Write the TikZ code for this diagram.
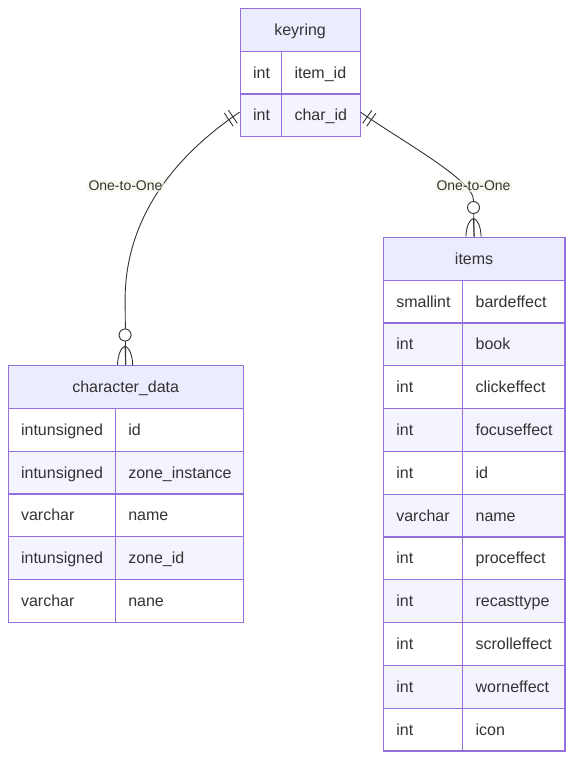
\documentclass[tikz,border=0pt]{standalone}
\usepackage{fontspec}
\setmainfont{Liberation Sans}
\usetikzlibrary{calc}
\definecolor{bord}{HTML}{9370DB}
\definecolor{hdr}{HTML}{ECECFF}
\definecolor{rowodd}{HTML}{FFFFFF}
\definecolor{roweven}{HTML}{F4F4FF}
\definecolor{txt}{HTML}{333333}
\definecolor{lblbg}{HTML}{F6F6E6}
\newcommand\errow[9]{%
  \pgfmathsetmacro\ercwa{#3-#2}%
  \pgfmathsetmacro\ercwb{#4-#3}%
  \pgfmathsetmacro\ercta{#3-#2-26}%
  \pgfmathsetmacro\erctb{#4-#3-26}%
  \pgfmathsetmacro\erch{#6-#5}%
  \node[cell, fill=#7, minimum width=\ercwa pt, minimum height=\erch pt, text width=\ercta pt] (#1t) at (#2,#5) {#8};
  \node[cell, fill=#7, minimum width=\ercwb pt, minimum height=\erch pt, text width=\erctb pt] (#1n) at (#3,#5) {#9};
}
\newcommand\erhead[5]{%
  \pgfmathsetmacro\ercwa{#3-#2}%
  \pgfmathsetmacro\erch{#5-#4}%
  \node[cell, fill=hdr, align=center, minimum width=\ercwa pt, minimum height=\erch pt] (#1) at (#2,#4) {#1};
}
\begin{document}
\begin{tikzpicture}[x=1pt,y=-1pt,
  cell/.style={draw=bord, line width=1.2pt, anchor=north west, inner xsep=13pt, inner ysep=0pt, align=left, text=txt, text height=11.5pt, text depth=0.5pt, font=\fontsize{16}{19}\selectfont},
  conn/.style={draw=txt, line width=0.9pt},
  marker/.style={draw=txt, line width=0.9pt},
  elabel/.style={fill=lblbg, fill opacity=0.6, text opacity=1, text=txt, inner sep=1.5pt, font=\fontsize{14}{16}\selectfont}]
\useasboundingbox (0,0) rectangle (572,758);
\fill[white] (0,0) rectangle (572,758);

% keyring
\erhead{keyring}{239.5}{359.5}{7.5}{50.5}
\errow{k1}{239.5}{281}{359.5}{50.5}{93.3}{rowodd}{int}{item\_id}
\errow{k2}{239.5}{281}{359.5}{93.3}{136}{roweven}{int}{char\_id}

% character_data
\node[cell, fill=hdr, align=center, minimum width=235.2pt, minimum height=42.7pt] (chardata) at (7.5,365) {character\_data};
\errow{c1}{7.5}{114.7}{242.7}{407.7}{450.5}{rowodd}{intunsigned}{id}
\errow{c2}{7.5}{114.7}{242.7}{450.5}{493.3}{roweven}{intunsigned}{zone\_instance}
\errow{c3}{7.5}{114.7}{242.7}{493.3}{536.1}{rowodd}{varchar}{name}
\errow{c4}{7.5}{114.7}{242.7}{536.1}{578.9}{roweven}{intunsigned}{zone\_id}
\errow{c5}{7.5}{114.7}{242.7}{578.9}{621.7}{rowodd}{varchar}{nane}

% items
\erhead{items}{382.7}{564.3}{236.7}{279.5}
\errow{i1}{382.7}{462}{564.3}{279.5}{322.3}{rowodd}{smallint}{bardeffect}
\errow{i2}{382.7}{462}{564.3}{322.3}{365.1}{roweven}{int}{book}
\errow{i3}{382.7}{462}{564.3}{365.1}{407.9}{rowodd}{int}{clickeffect}
\errow{i4}{382.7}{462}{564.3}{407.9}{450.7}{roweven}{int}{focuseffect}
\errow{i5}{382.7}{462}{564.3}{450.7}{493.5}{rowodd}{int}{id}
\errow{i6}{382.7}{462}{564.3}{493.5}{536.3}{roweven}{varchar}{name}
\errow{i7}{382.7}{462}{564.3}{536.3}{579.1}{rowodd}{int}{proceffect}
\errow{i8}{382.7}{462}{564.3}{579.1}{621.9}{roweven}{int}{recasttype}
\errow{i9}{382.7}{462}{564.3}{621.9}{664.7}{rowodd}{int}{scrolleffect}
\errow{i10}{382.7}{462}{564.3}{664.7}{707.5}{roweven}{int}{worneffect}
\errow{i11}{382.7}{462}{564.3}{707.5}{750.3}{rowodd}{int}{icon}

% connector keyring -> character_data
\coordinate (sL) at ([yshift=3pt]k2t.west);
\coordinate (cL1) at (172,158);
\coordinate (cL2) at (125.1,220);
\coordinate (cL3) at (125.1,300);
\draw[conn] (sL) .. controls (cL1) and (cL2) .. (cL3) -- (chardata.north);
\node[elabel] (lblL) at (125.5,186) {One-to-One};
% one-only bars
\coordinate (bL1) at ($(sL)!8pt!(cL1)$);
\coordinate (bL2) at ($(sL)!13pt!(cL1)$);
\draw[marker] ($(bL1)!8pt!90:(sL)$) -- ($(bL1)!8pt!-90:(sL)$);
\draw[marker] ($(bL2)!8pt!90:(sL)$) -- ($(bL2)!8pt!-90:(sL)$);
% zero-or-many
\node[marker, circle, fill=white, inner sep=0pt, minimum size=12pt] (oL) at (125.1,335) {};
\coordinate (fL) at (125.1,346);
\draw[marker] (fL) -- (chardata.north);
\draw[marker] (117.5,365) .. controls (117.8,354) and (121.5,347.5) .. (fL);
\draw[marker] (132.7,365) .. controls (132.4,354) and (128.7,347.5) .. (fL);

% connector keyring -> items
\coordinate (sR) at ([yshift=3pt]k2n.east);
\coordinate (cR1) at (400,140);
\coordinate (cR2) at (473.5,180);
\coordinate (cR3) at (473.5,200);
\draw[conn] (sR) .. controls (cR1) and (cR2) .. (cR3) -- (items.north);
\node[elabel] (lblR) at (473.5,186) {One-to-One};
\coordinate (bR1) at ($(sR)!8pt!(cR1)$);
\coordinate (bR2) at ($(sR)!13pt!(cR1)$);
\draw[marker] ($(bR1)!8pt!90:(sR)$) -- ($(bR1)!8pt!-90:(sR)$);
\draw[marker] ($(bR2)!8pt!90:(sR)$) -- ($(bR2)!8pt!-90:(sR)$);
\node[marker, circle, fill=white, inner sep=0pt, minimum size=12pt] (oR) at (473.5,207.5) {};
\coordinate (fR) at (473.5,218.5);
\draw[marker] (fR) -- (items.north);
\draw[marker] (465.9,236.7) .. controls (466.2,225.7) and (469.9,219.2) .. (fR);
\draw[marker] (481.1,236.7) .. controls (480.8,225.7) and (477.1,219.2) .. (fR);
\end{tikzpicture}
\end{document}
